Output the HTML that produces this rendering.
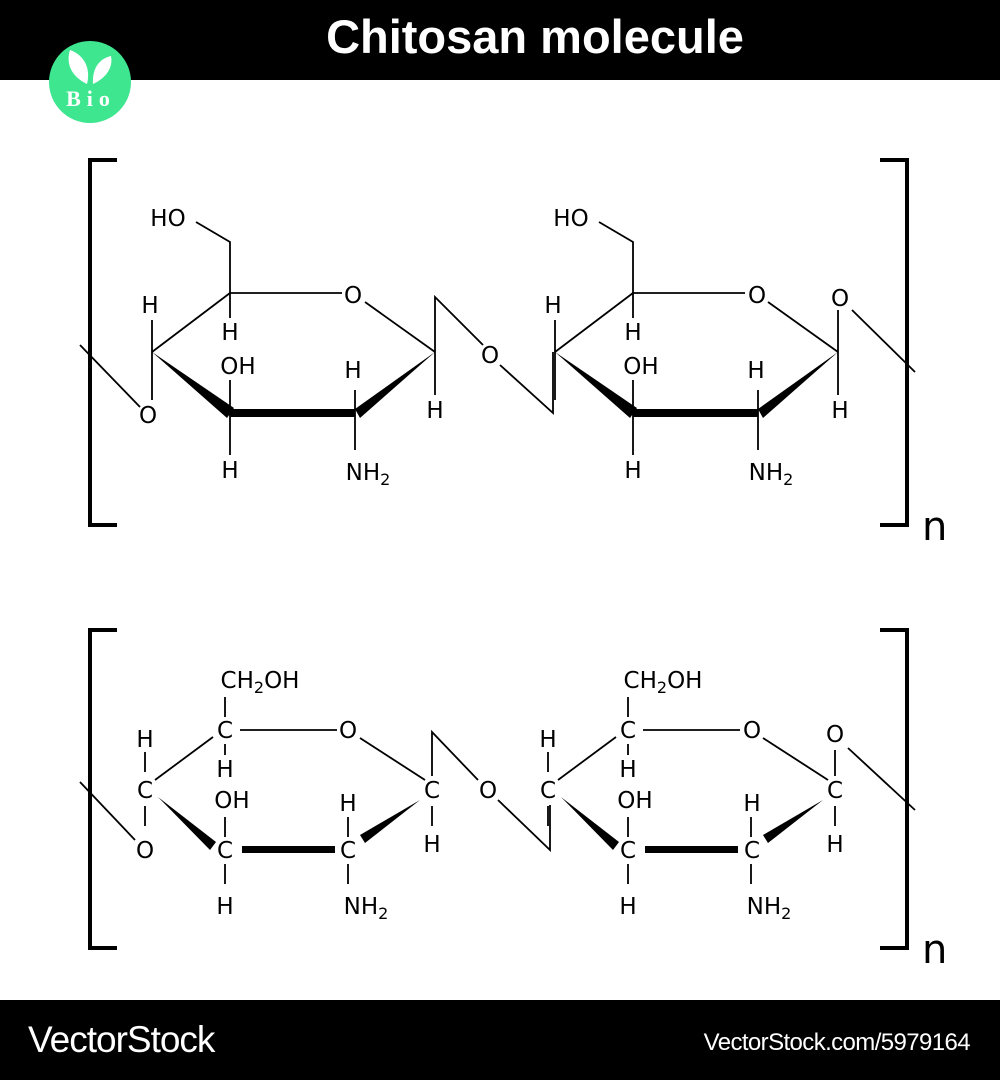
<!DOCTYPE html>
<html><head><meta charset="utf-8"><style>
html,body{margin:0;padding:0;background:#fff}
svg{display:block}
text{font-family:"DejaVu Sans","Liberation Sans",sans-serif;fill:#000}
</style></head><body>
<svg width="1000" height="1080" viewBox="0 0 1000 1080" xmlns="http://www.w3.org/2000/svg">
<rect x="0" y="0" width="1000" height="80" fill="#000"/>
<text x="535" y="53" text-anchor="middle" style="font-family:'Liberation Sans',sans-serif;font-weight:bold;font-size:47px;fill:#fff">Chitosan molecule</text>
<circle cx="90" cy="82" r="41" fill="#3ee68f"/>
<path d="M87 84 C70 76 66 62 70 50 C84 55 91 68 87 84Z" fill="#fff"/>
<path d="M93 84 C108 77 113 66 111 56 C98 59 92 70 93 84Z" fill="#fff"/>
<text x="91" y="106" text-anchor="middle" style="font-family:'Liberation Serif',serif;font-weight:bold;font-size:22px;fill:#fff;letter-spacing:6px">Bio</text>
<rect x="0" y="1000" width="1000" height="80" fill="#000"/>
<text x="28" y="1052" style="font-family:'Liberation Sans',sans-serif;font-size:37px;fill:#fff;letter-spacing:-1px">VectorStock</text>
<text x="970" y="1050" text-anchor="end" style="font-family:'Liberation Sans',sans-serif;font-size:24px;fill:#fff;letter-spacing:-0.6px">VectorStock.com/5979164</text>

<g stroke="#000" stroke-width="4" fill="none">
<path d="M117 160H90V525H117"/><path d="M880 160H907V525H880"/>
<path d="M117 630H90V948H117"/><path d="M880 630H907V948H880"/>
</g>
<text x="922" y="540" style="font-size:40px">n</text>
<text x="922" y="963" style="font-size:40px">n</text>

<!-- TOP -->
<g stroke="#000" stroke-width="1.8" fill="none">
<g id="r1">
<path d="M196 222L230 242V318"/>
<path d="M230 293H342"/>
<path d="M365 302L435 352"/>
<path d="M152 352L230 293"/>
<path d="M152 352V320M152 352V400"/>
<path d="M230 413V380M230 413V455"/>
<path d="M355 413V390M355 413V450"/>
<path d="M435 352V395"/>
</g>
<path d="M140 407L80 345"/>
<path d="M435 352V297L483 345"/>
<path d="M500 365L553 413V352"/>
<g transform="translate(403,0)"><use href="#r1"/></g>
<path d="M838 352V310"/>
<path d="M852 310L915 372"/>
</g>
<g fill="#000">
<path d="M152 352L234 408L227 418Z"/>
<rect x="230" y="409" width="125" height="8"/>
<path d="M355 409L360 418L435 352Z"/>
<path d="M555 352L637 408L630 418Z"/>
<rect x="633" y="409" width="125" height="8"/>
<path d="M758 409L763 418L838 352Z"/>
</g>
<g font-size="23" text-anchor="middle">
<text x="168" y="226">HO</text>
<text x="230" y="340">H</text>
<text x="150" y="313">H</text>
<text x="148" y="423">O</text>
<text x="238" y="374">OH</text>
<text x="230" y="478">H</text>
<text x="353" y="378">H</text>
<text x="368" y="480">NH<tspan font-size="16" dy="5">2</tspan></text>
<text x="435" y="418">H</text>
<text x="353" y="303">O</text>
<text x="490" y="363">O</text>
<text x="571" y="226">HO</text>
<text x="633" y="340">H</text>
<text x="553" y="313">H</text>
<text x="641" y="374">OH</text>
<text x="633" y="478">H</text>
<text x="756" y="378">H</text>
<text x="771" y="480">NH<tspan font-size="16" dy="5">2</tspan></text>
<text x="840" y="418">H</text>
<text x="757" y="303">O</text>
<text x="840" y="306">O</text>
</g>

<!-- BOTTOM -->
<g stroke="#000" stroke-width="1.8" fill="none">
<g id="r2">
<path d="M225 697V717M225 744V755"/>
<path d="M240 730H337"/>
<path d="M360 738L425 780"/>
<path d="M155 780L213 737"/>
<path d="M145 752V772M145 806V826"/>
<path d="M225 817V837M225 864V884"/>
<path d="M348 817V837M348 864V884"/>
<path d="M432 806V826"/>
</g>
<path d="M135 840L80 782"/>
<path d="M432 776V732L478 780"/>
<path d="M498 800L550 850V805"/>
<g transform="translate(403,0)"><use href="#r2"/></g>
<path d="M835 776V750"/>
<path d="M848 748L915 810"/>
</g>
<g fill="#000">
<path d="M158 797L216 842L210 850Z"/>
<rect x="242" y="846" width="93" height="7"/>
<path d="M360 835L365 843L420 800Z"/>
<path d="M561 797L619 842L613 850Z"/>
<rect x="645" y="846" width="93" height="7"/>
<path d="M763 835L768 843L823 800Z"/>
</g>
<g font-size="23" text-anchor="middle">
<text x="260" y="688">CH<tspan font-size="16" dy="5">2</tspan><tspan dy="-5">OH</tspan></text>
<text x="225" y="738">C</text>
<text x="225" y="777">H</text>
<text x="145" y="747">H</text>
<text x="145" y="798">C</text>
<text x="145" y="858">O</text>
<text x="232" y="808">OH</text>
<text x="225" y="858">C</text>
<text x="225" y="914">H</text>
<text x="348" y="811">H</text>
<text x="348" y="858">C</text>
<text x="366" y="914">NH<tspan font-size="16" dy="5">2</tspan></text>
<text x="432" y="798">C</text>
<text x="432" y="852">H</text>
<text x="348" y="738">O</text>
<text x="488" y="798">O</text>
<text x="663" y="688">CH<tspan font-size="16" dy="5">2</tspan><tspan dy="-5">OH</tspan></text>
<text x="628" y="738">C</text>
<text x="628" y="777">H</text>
<text x="548" y="747">H</text>
<text x="548" y="798">C</text>
<text x="635" y="808">OH</text>
<text x="628" y="858">C</text>
<text x="628" y="914">H</text>
<text x="752" y="811">H</text>
<text x="752" y="858">C</text>
<text x="769" y="914">NH<tspan font-size="16" dy="5">2</tspan></text>
<text x="835" y="798">C</text>
<text x="835" y="852">H</text>
<text x="752" y="738">O</text>
<text x="835" y="742">O</text>
</g>
</svg>
</body></html>
